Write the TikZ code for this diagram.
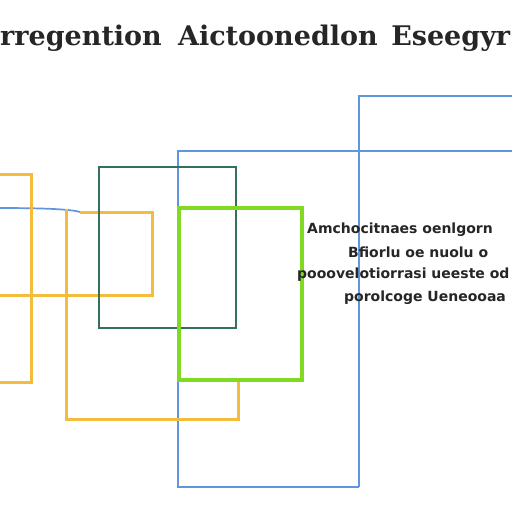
\documentclass[tikz,border=0pt]{standalone}
\usepackage{fontspec}
\setmainfont{DejaVu Serif}
\newfontfamily\blocktext{DejaVu Sans}
\definecolor{boxyellow}{RGB}{244,188,60}
\definecolor{boxblue}{RGB}{95,150,222}
\definecolor{boxteal}{RGB}{52,112,92}
\definecolor{boxlime}{RGB}{128,218,34}

\begin{document}
\begin{tikzpicture}[x=1pt,y=-1pt,line join=miter,
            every node/.style={inner sep=0pt,text=black!85},
            yellowline/.style={draw=boxyellow,line width=3pt},
            blueline/.style={draw=boxblue,line width=1.7pt},
            tealline/.style={draw=boxteal,line width=2.2pt},
            limeline/.style={draw=boxlime,line width=3.6pt}]
                \useasboundingbox (0,0) rectangle (512,512);
                \fill[white] (0,0) rectangle (512,512);

                % blue frames
                \draw[blueline] (359,487) -- (359,96) -- (515,96);
                \draw[blueline] (515,151) -- (178,151) -- (178,487) -- (359,487);
                \draw[blueline] (-2,208) .. controls (40,208) and (70,209) .. (80,212);

                % yellow frames
                \draw[yellowline] (-2,174) -- (31,174) -- (31,382) -- (-2,382);
                \draw[yellowline] (80,212) -- (152,212) -- (152,295) -- (-2,295);
                \draw[yellowline] (66,209) -- (66,419) -- (238,419) -- (238,381);

                % teal and lime frames
                \draw[tealline] (99,167) rectangle (236,328);
                \draw[limeline] (179,208) rectangle (302,380);

                % texts
                \node[anchor=west](title) at (0,38) {\fontsize{27}{27}\selectfont\bfseries rregention\hspace{0.6em}Aictoonedlon\hspace{0.5em}Eseegyr};
                \node[anchor=west](l1) at (307,230) {\blocktext\fontsize{14}{14}\selectfont\bfseries Amchocitnaes oenlgorn};
                \node[anchor=west](l2) at (348,252) {\blocktext\fontsize{14}{14}\selectfont\bfseries Bfiorlu oe nuolu o};
                \node[anchor=west](l3) at (297,275) {\blocktext\fontsize{14}{14}\selectfont\bfseries pooovelotiorrasi ueeste od};
                \node[anchor=west](l4) at (344,298) {\blocktext\fontsize{14}{14}\selectfont\bfseries porolcoge Ueneooaa};
        \end{tikzpicture}
\end{document}
